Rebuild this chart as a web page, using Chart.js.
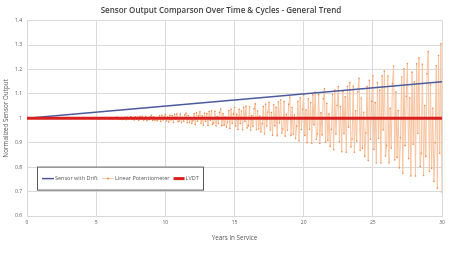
<!DOCTYPE html>
<html>
<head>
<meta charset="utf-8">
<script src="https://cdn.jsdelivr.net/npm/chart.js@4"></script>
<style>
  html, body { margin: 0; padding: 0; background: #fff; }
  #wrap { width: 450px; height: 256px; }
</style>
</head>
<body>
<div id="wrap"><canvas id="chart" width="450" height="256"></canvas></div>
<script>
const xTicks = [0, 5, 10, 15, 20, 25, 30];
const yTicks = [0.6, 0.7, 0.8, 0.9, 1, 1.1, 1.2, 1.3, 1.4];

const driftYears = [0, 30];
const driftValues = [1.0, 1.15];

const lvdtYears = [0, 30];
const lvdtValues = [1.0, 1.0];

// potentiometer readings, one every 1/12 year from 0 to 30 (six per row = half a year)
const potStep = 1 / 12;
const potValues = [
  1.000, 1.000, 1.000, 1.000, 1.000, 1.000,
  1.000, 1.000, 1.000, 1.000, 1.000, 1.000,
  1.000, 1.000, 1.000, 1.000, 1.000, 1.000,
  1.000, 1.000, 1.000, 1.000, 1.000, 1.000,
  1.000, 1.000, 1.000, 1.000, 1.000, 1.000,
  1.000, 1.000, 1.000, 1.000, 1.000, 1.000,
  1.000, 0.999, 1.001, 1.000, 1.001, 0.999,
  0.999, 1.001, 0.999, 1.000, 0.999, 1.001,
  1.001, 0.999, 1.001, 0.999, 1.000, 0.999,
  0.999, 1.001, 0.998, 1.002, 0.999, 1.001,
  1.002, 0.998, 1.001, 0.998, 1.002, 0.999,
  1.002, 0.997, 1.003, 0.999, 1.003, 0.998,
  0.998, 1.003, 0.997, 1.001, 0.998, 1.003,
  1.005, 0.996, 1.002, 0.996, 1.001, 0.995,
  0.998, 1.004, 0.994, 1.005, 0.997, 1.002,
  1.007, 0.995, 1.003, 0.993, 1.006, 0.997,
  1.005, 0.992, 1.008, 0.998, 1.008, 0.993,
  0.995, 1.008, 0.991, 1.002, 0.994, 1.007,
  1.012, 0.991, 1.006, 0.991, 1.002, 0.989,
  0.995, 1.010, 0.987, 1.012, 0.993, 1.005,
  1.015, 0.989, 1.005, 0.985, 1.012, 0.993,
  1.011, 0.983, 1.016, 0.996, 1.018, 0.986,
  0.989, 1.017, 0.982, 1.004, 0.988, 1.014,
  1.022, 0.982, 1.011, 0.983, 1.003, 0.979,
  0.991, 1.019, 0.975, 1.023, 0.988, 1.010,
  1.027, 0.980, 1.010, 0.972, 1.022, 0.987,
  1.019, 0.971, 1.028, 0.992, 1.031, 0.975,
  0.981, 1.029, 0.969, 1.007, 0.979, 1.024,
  1.038, 0.970, 1.019, 0.972, 1.006, 0.964,
  0.985, 1.032, 0.958, 1.038, 0.979, 1.017,
  1.044, 0.968, 1.016, 0.954, 1.037, 0.979,
  1.030, 0.953, 1.045, 0.988, 1.050, 0.960,
  0.970, 1.047, 0.951, 1.011, 0.967, 1.039,
  1.059, 0.953, 1.030, 0.956, 1.009, 0.944,
  0.978, 1.048, 0.936, 1.058, 0.968, 1.026,
  1.066, 0.952, 1.024, 0.931, 1.055, 0.969,
  1.045, 0.929, 1.068, 0.981, 1.075, 0.940,
  0.956, 1.069, 0.927, 1.016, 0.951, 1.057,
  1.087, 0.930, 1.044, 0.935, 1.013, 0.917,
  0.968, 1.070, 0.907, 1.084, 0.954, 1.037,
  1.095, 0.930, 1.035, 0.900, 1.080, 0.955,
  1.064, 0.898, 1.096, 0.973, 1.107, 0.914,
  0.937, 1.097, 0.897, 1.023, 0.932, 1.080,
  1.121, 0.903, 1.061, 0.909, 1.018, 0.885,
  0.955, 1.097, 0.871, 1.116, 0.936, 1.052,
  1.130, 0.904, 1.048, 0.863, 1.110, 0.938,
  1.088, 0.861, 1.131, 0.964, 1.146, 0.883,
  0.915, 1.132, 0.861, 1.031, 0.907, 1.109,
  1.164, 0.869, 1.082, 0.877, 1.025, 0.844,
  0.940, 1.130, 0.827, 1.156, 0.914, 1.069,
  1.174, 0.872, 1.064, 0.817, 1.146, 0.918,
  1.116, 0.817, 1.174, 0.952, 1.193, 0.846,
  0.888, 1.173, 0.817, 1.041, 0.878, 1.142,
  1.214, 0.829, 1.107, 0.840, 1.032, 0.797,
  0.921, 1.169, 0.775, 1.203, 0.888, 1.090,
  1.224, 0.835, 1.083, 0.764, 1.189, 0.894,
  1.149, 0.764, 1.223, 0.938, 1.248, 0.802,
  0.857, 1.221, 0.766, 1.052, 0.844, 1.182,
  1.273, 0.782, 1.137, 0.795, 1.041, 0.741,
  0.900, 1.215, 0.714, 1.257, 0.857, 1.305,
  0.698
];

const seriesNames = ["Sensor with Drift", "Linear Potentiometer", "LVDT"];

const pts = (xs, ys) => ys.map((y, i) => ({ x: xs[i], y: y }));

const textColor = "#595959";
const gridColor = "#d9d9d9";

// legend box sits inside the plot area, lower left
const insideLegend = {
  id: "insideLegend",
  afterDraw(chart) {
    const ctx = chart.ctx;
    const a = chart.chartArea;
    const left = a.left + 10, top = a.top + 146, w = 166, h = 23;
    ctx.save();
    ctx.fillStyle = "#fff";
    ctx.fillRect(left, top, w, h);
    ctx.strokeStyle = "#595959";
    ctx.lineWidth = 1;
    ctx.strokeRect(left + 0.5, top + 0.5, w, h);
    ctx.font = "5.5px 'Open Sans'";
    ctx.textBaseline = "middle";
    const cy = top + h / 2 + 0.5;
    let x = left + 5;
    chart.data.datasets.forEach((ds, i) => {
      const sl = i === 2 ? 11 : 12;
      ctx.strokeStyle = ds.borderColor;
      ctx.lineWidth = ds.borderWidth;
      ctx.beginPath();
      ctx.moveTo(x, cy);
      ctx.lineTo(x + sl, cy);
      ctx.stroke();
      if (ds.pointRadius > 0) {
        ctx.fillStyle = ds.pointBackgroundColor;
        ctx.beginPath();
        ctx.arc(x + sl / 2, cy, 1, 0, Math.PI * 2);
        ctx.fill();
      }
      ctx.fillStyle = textColor;
      ctx.fillText(ds.label, x + sl + 1, cy);
      x += sl + 1 + ctx.measureText(ds.label).width + 4;
    });
    ctx.restore();
  }
};

new Chart(document.getElementById("chart"), {
  type: "line",
  data: {
    datasets: [
      {
        label: seriesNames[0],
        data: pts(driftYears, driftValues),
        borderColor: "#4a5a9c",
        borderWidth: 1.5,
        pointRadius: 0,
        order: 1
      },
      {
        label: seriesNames[1],
        data: potValues.map((v, i) => ({ x: i * potStep, y: v })),
        borderColor: "#f7c4a1",
        borderWidth: 1,
        pointRadius: 0.8,
        pointBorderWidth: 0,
        pointBackgroundColor: "#ef8c4e",
        order: 2
      },
      {
        label: seriesNames[2],
        data: pts(lvdtYears, lvdtValues),
        borderColor: "#d9201e",
        borderWidth: 3,
        pointRadius: 0,
        order: 0
      }
    ]
  },
  options: {
    responsive: false,
    animation: false,
    layout: { padding: { left: 0, right: 8, top: 0, bottom: 10 } },
    plugins: {
      legend: { display: false },
      tooltip: { enabled: false },
      title: {
        display: true,
        text: "Sensor Output Comparson Over Time & Cycles - General Trend",
        color: "#404040",
        font: { family: "Open Sans", size: 8, weight: "600" },
        padding: { top: 6, bottom: 5 }
      }
    },
    scales: {
      x: {
        type: "linear",
        min: 0,
        max: 30,
        afterBuildTicks: s => { s.ticks = xTicks.map(v => ({ value: v })); },
        afterFit: s => { s.height = 30; },
        grid: { color: gridColor, drawTicks: false },
        border: { color: gridColor },
        ticks: { color: textColor, font: { family: "Open Sans", size: 5 }, padding: 4 },
        title: {
          display: true,
          text: "Years in Service",
          color: textColor,
          font: { family: "Open Sans", size: 6.3 },
          padding: { top: 2 }
        }
      },
      y: {
        min: 0.6,
        max: 1.4,
        afterBuildTicks: s => { s.ticks = yTicks.map(v => ({ value: v })); },
        afterFit: s => { s.width = 27; },
        grid: { color: gridColor, drawTicks: false },
        border: { color: gridColor },
        ticks: {
          color: textColor,
          font: { family: "Open Sans", size: 5 },
          padding: 5,
          callback: v => String(Math.round(v * 10) / 10)
        },
        title: {
          display: true,
          text: "Normalized Sensor Output",
          color: textColor,
          font: { family: "Open Sans", size: 6.3 },
          padding: { top: 2, bottom: 0 }
        }
      }
    }
  },
  plugins: [insideLegend]
});
</script>
</body>
</html>
